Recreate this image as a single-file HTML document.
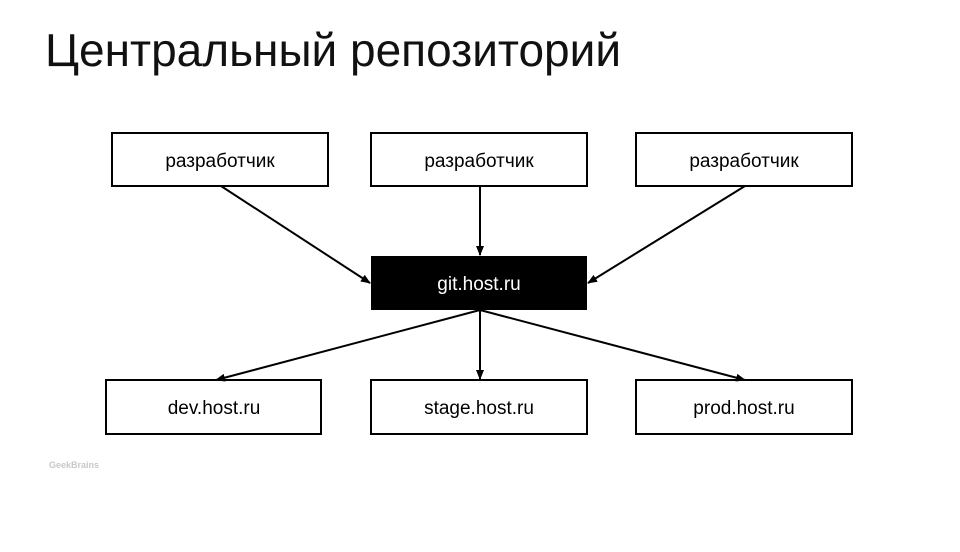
<!DOCTYPE html>
<html><head><meta charset="utf-8"><style>
body{margin:0;width:960px;height:547px;background:#fff;overflow:hidden;font-family:"Liberation Sans",Arial,sans-serif}
</style></head><body>
<svg width="960" height="547" xmlns="http://www.w3.org/2000/svg" font-family="Liberation Sans, Arial, sans-serif">
<defs><marker id="a" markerWidth="10" markerHeight="8" refX="9" refY="4" orient="auto" markerUnits="userSpaceOnUse"><path d="M0,0 L10,4 L0,8 z" fill="#000"/></marker></defs>
<text x="45" y="66" font-size="46" fill="#111">Центральный репозиторий</text>
<g fill="#fff" stroke="#000" stroke-width="2">
<rect x="112" y="133" width="216" height="53"/>
<rect x="371" y="133" width="216" height="53"/>
<rect x="636" y="133" width="216" height="53"/>
<rect x="106" y="380" width="215" height="54"/>
<rect x="371" y="380" width="216" height="54"/>
<rect x="636" y="380" width="216" height="54"/>
</g>
<rect x="371" y="256" width="216" height="54" fill="#000"/>
<g stroke="#000" stroke-width="2" marker-end="url(#a)">
<line x1="221" y1="186" x2="370" y2="283"/>
<line x1="480" y1="186" x2="480" y2="255"/>
<line x1="745" y1="186" x2="588" y2="283"/>
<line x1="480" y1="310" x2="216" y2="380"/>
<line x1="480" y1="310" x2="480" y2="379"/>
<line x1="480" y1="310" x2="745" y2="380"/>
</g>
<g font-size="19" text-anchor="middle" fill="#000">
<text x="220" y="167">разработчик</text>
<text x="479" y="167">разработчик</text>
<text x="744" y="167">разработчик</text>
<text x="479" y="290" fill="#fff">git.host.ru</text>
<text x="214" y="414">dev.host.ru</text>
<text x="479" y="414">stage.host.ru</text>
<text x="744" y="414">prod.host.ru</text>
</g>
<text x="49" y="468" font-size="9" font-weight="bold" fill="#c8c8c8">GeekBrains</text>
</svg>
</body></html>
